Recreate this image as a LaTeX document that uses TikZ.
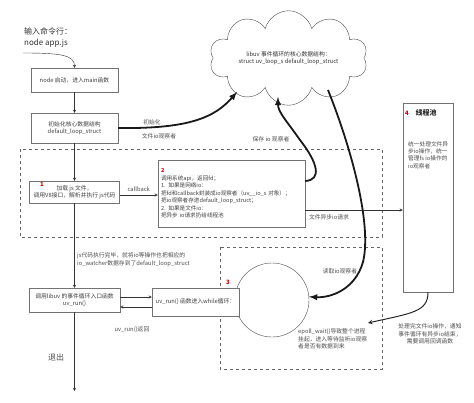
\documentclass[tikz,border=0pt]{standalone}
\usepackage{fontspec}
\setmainfont{Noto Sans CJK SC}
\usetikzlibrary{shapes.geometric, shapes.symbols, arrows}
\usetikzlibrary{calc}
\tikzstyle{box} = [rectangle, draw=black!55, fill=white, text=black!75, font=\fontsize{5.8}{7}\selectfont, align=center, inner sep=1pt]
\tikzstyle{note} = [text=black!70, font=\fontsize{5.8}{7.5}\selectfont, align=left, inner sep=0pt]
\tikzstyle{num} = [text=red!85!black, font=\fontsize{6}{7}\selectfont\bfseries, inner sep=0pt]
\tikzstyle{arrow} = [draw=black!80, ->, >=stealth]
\tikzstyle{midarrow} = [draw=black!85, line width=1pt, ->, >=stealth]
\tikzstyle{bigarrow} = [draw=black!90, line width=1.8pt, ->, >=latex]
\tikzstyle{dashbox} = [draw=black!60, dashed, line width=0.6pt]

\begin{document}
\begin{tikzpicture}[x=1pt, y=-1pt]
        \useasboundingbox (0,0) rectangle (474,402);

        % dashed areas
        \draw[dashbox] (20,149) rectangle (382,237);
        \draw[dashbox] (220,247) rectangle (382,369);

        \node(cloud) [cloud, cloud puffs=10, aspect=2.2, draw=black!70, fill=white, text=black!80, inner sep=0pt, minimum width=158pt, minimum height=72pt, font=\fontsize{5.8}{7}\selectfont, align=center] at (288.5,58) {libuv 事件循环的核心数据结构：\\struct uv\_loop\_s default\_loop\_struct};
        \coordinate(cloudin1) at (237,92);
        \coordinate(cloudin2) at (278,97);
        \coordinate(cloudout) at (328,90);

        \node(entry) [note, anchor=west, font=\fontsize{8}{11}\selectfont, text=black!80] at (24,38) {输入命令行：\\ node app.js};
        \coordinate(entryin) at (23,53);

        \node(startbox) [box, minimum width=87pt, minimum height=24pt] at (74.5,80) {node 启动，进入main函数};
        \node(initbox) [box, minimum width=87pt, minimum height=30pt] at (74.5,128) {初始化核心数据结构\\default\_loop\_struct};
        \node(loadbox) [box, minimum width=90pt, minimum height=22pt] at (74.5,192) {加载 js 文件，\\调用V8接口，解析并执行 js代码};
        \node(num1) [num] at (42,184) {1};
        \node(sysbox) [box, font=\fontsize{5.6}{7.5}\selectfont, text width=141pt, align=left, minimum width=147pt, minimum height=67pt] at (231.5,193.5) {\textcolor{red!85!black}{\bfseries 2}\\调用系统api，返回fd；\\1. 如果是网络io：\\把fd和callback封装成io观察者（uv\_\_io\_s 对象）；\\把io观察者存进default\_loop\_struct；\\2. 如果是文件io：\\把异步 io请求扔给线程池};

        \node(poolbox) [box, minimum width=50pt, minimum height=189pt] at (428,197.5) {};
        \node(num4) [num] at (407,113) {4};
        \node(pooltitle) [font=\fontsize{7}{8}\selectfont\bfseries, text=black!85, inner sep=0pt] at (426,113) {线程池};
        \node(pooltext) [note, anchor=west, font=\fontsize{5.7}{7.4}\selectfont] at (408,155) {统一处理文件异\\步io操作，统一\\管理fs io操作的\\io观察者};

        \node(loopcircle) [circle, draw=black!70, minimum size=74pt] at (272,300) {};
        \node(runbox) [box, minimum width=91pt, minimum height=24pt] at (74.5,300) {调用libuv 的事件循环入口函数\\uv\_run()};
        \node(whilebox) [box, minimum width=87pt, minimum height=28pt] at (195.5,302) {uv\_run() 函数进入while循环：};
        \node(num3) [num] at (228,282) {3};
        \coordinate(exitpt) at (74.5,391);
        \coordinate(poolnote) at (368,323);

        % labels
        \node(lbinit) [note] at (152,122) {初始化};
        \node(lbinitio) [note] at (159,136) {文件io观察者};
        \node(lbsave) [note] at (271,139) {保存 io 观察者};
        \node(lbfile) [note] at (329,217) {文件异步io请求};
        \node(lbread) [note] at (340,271) {读取io观察者};
        \node(lbjs) [note, anchor=west] at (77,259.5) {js代码执行完毕，就将io等操作也把相应的\\io\_watcher数据存到了default\_loop\_struct};
        \node(lbret) [note] at (132,330) {uv\_run()返回};
        \node(lbexit) [note, font=\fontsize{8}{10}\selectfont] at (56,357) {退出};
        \node(lbepoll) [note, anchor=west] at (298,339) {epoll\_wait()导致整个进程\\挂起，进入等待监听io观察\\者是否有数据到来};
        \node(lbdone) [note, align=center] at (430,334) {处理完文件io操作，通知\\事件循环有异步io结束，\\需要调用回调函数};

        \draw[arrow] (entryin) .. controls (60,53) and (74.5,55) .. (startbox.north);
        \draw[arrow] (startbox) -- (initbox);
        \draw[arrow] (initbox) -- (loadbox);
        \draw[arrow] ([yshift=-3pt]loadbox.east) -- node[note, above=3pt]{callback} ([yshift=-3pt]loadbox.east -| sysbox.west);
        \draw[arrow] ([yshift=-16.5pt]sysbox.east) -- ([yshift=-16.5pt]sysbox.east -| poolbox.west);
        \draw[arrow] (loadbox) -- (runbox);
        \draw[arrow] ([yshift=3pt]runbox.east) -- ([yshift=3pt]runbox.east -| whilebox.west);
        \draw[arrow] ([yshift=-5pt]whilebox.west) -- ([yshift=-5pt]whilebox.west -| runbox.east);
        \draw[arrow] (runbox) -- (exitpt);

        \draw[bigarrow] (initbox.east) .. controls (190,129) and (215,117) .. (cloudin1);
        \draw[bigarrow] ([yshift=12.5pt]sysbox.east) .. controls (322,180) and (318,163) .. (300,140) .. controls (286,120) and (278,112) .. (cloudin2);
        \draw[bigarrow] (cloudout) .. controls (352,150) and (372,225) .. (363,262) .. controls (355,290) and (330,298) .. (loopcircle.5);
        \draw[midarrow] (poolbox.south) .. controls (428,312) and (412,313) .. (poolnote);
    \end{tikzpicture}
\end{document}
